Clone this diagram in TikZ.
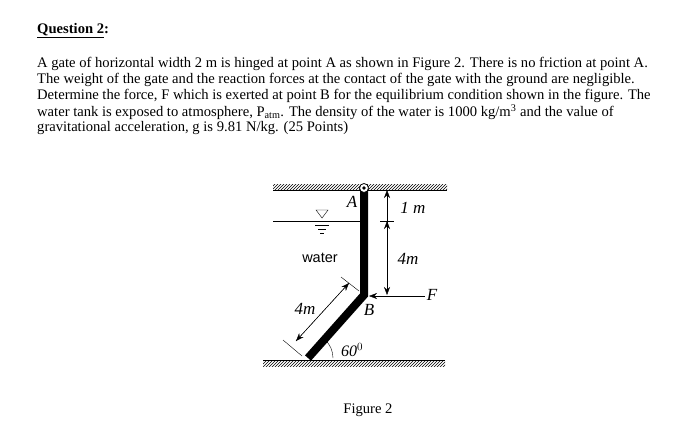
\documentclass[tikz,border=0pt]{standalone}
\usepackage{fontspec}
\setmainfont{Liberation Serif}
\newfontfamily\sansf{Liberation Sans}
\usetikzlibrary{patterns,arrows.meta}
\begin{document}
\begin{tikzpicture}[x=1pt,y=-1pt,
  txt/.style={anchor=west,inner sep=0pt,font=\fontsize{14.6}{16}\selectfont},
  lab/.style={font=\itshape\fontsize{17}{17}\selectfont,inner sep=1pt},
  dim/.style={thin,-{Stealth[length=8pt,width=6pt]}},
  hatch/.style={pattern=north east lines,draw=none}]
\useasboundingbox (0,0) rectangle (700,444);
\node[txt,font=\fontsize{14.6}{16}\selectfont\bfseries] (q) at (37,31) {\underline{Question 2}:};
\node[txt] (l1) at (37,64) {A gate of horizontal width 2 m is hinged at point A as shown in Figure 2. There is no friction at point A.};
\node[txt] (l2) at (37,80) {The weight of the gate and the reaction forces at the contact of the gate with the ground are negligible.};
\node[txt] (l3) at (37,96) {Determine the force, F which is exerted at point B for the equilibrium condition shown in the figure. The};
\node[txt] (l4) at (37,112) {water tank is exposed to atmosphere, P\textsubscript{atm}. The density of the water is 1000 kg/m\textsuperscript{3} and the value of};
\node[txt] (l5) at (37,128) {gravitational acceleration, g is 9.81 N/kg. (25 Points)};
% grounds
\fill[hatch] (273,184) rectangle (447,190);
\draw (273,190) -- (447,190);
\fill[hatch] (263,360) rectangle (445,366);
\draw (263,360) -- (445,360);
% water surface
\draw (273,221) -- (364,221);
\draw (316,210) -- (328,210) -- (322,218) -- cycle;
\draw (315,225) -- (329,225) (318,229) -- (326,229) (320,233) -- (324,233);
\node[font=\sansf\fontsize{14.5}{15}\selectfont] (w) at (320,258) {water};
% gate
\coordinate (A) at (364,188);
\coordinate (B) at (364,295);
\coordinate (C) at (308,358);
\draw[line width=8pt,line join=miter] (A) -- (B) -- (C);
\draw[fill=white,thick] (A) circle (4.5);
\fill (A) circle (1.8);
\node[lab] (la) at (352,202) {A};
\node[lab] (lb) at (369,310) {B};
% vertical dims
\coordinate (d0) at (387,190);
\coordinate (d1) at (387,221);
\coordinate (d2) at (387,295);
\draw[dim] (d1) -- (d0);
\draw[dim] ([yshift=-9]d1) -- (d1);
\draw (380,221) -- (394,221);
\draw[dim] (d1) -- (d2);
\node[lab] (m1) at (413,208) {1 m};
\node[lab] (m4) at (408,259) {4m};
% F
\coordinate (Fs) at (425,296);
\draw[dim] (Fs) -- (369,296);
\node[lab] (F) at (432,295) {F};
% slanted dim
\draw (341,277) -- (359,291);
\draw (283,340) -- (302,356);
\draw[dim] (296,341) -- (349,283);
\draw[dim] (349,283) -- (296,341);
\node[lab] (m4b) at (305,309) {4m};
% angle
\draw (333,358) arc (0:-48:25);
\node[lab,font=\itshape\fontsize{16}{16}\selectfont] (ang) at (352,350) {60$^0$};
\node[font=\fontsize{14.6}{16}\selectfont] (fig) at (368,410) {Figure 2};
\end{tikzpicture}
\end{document}
